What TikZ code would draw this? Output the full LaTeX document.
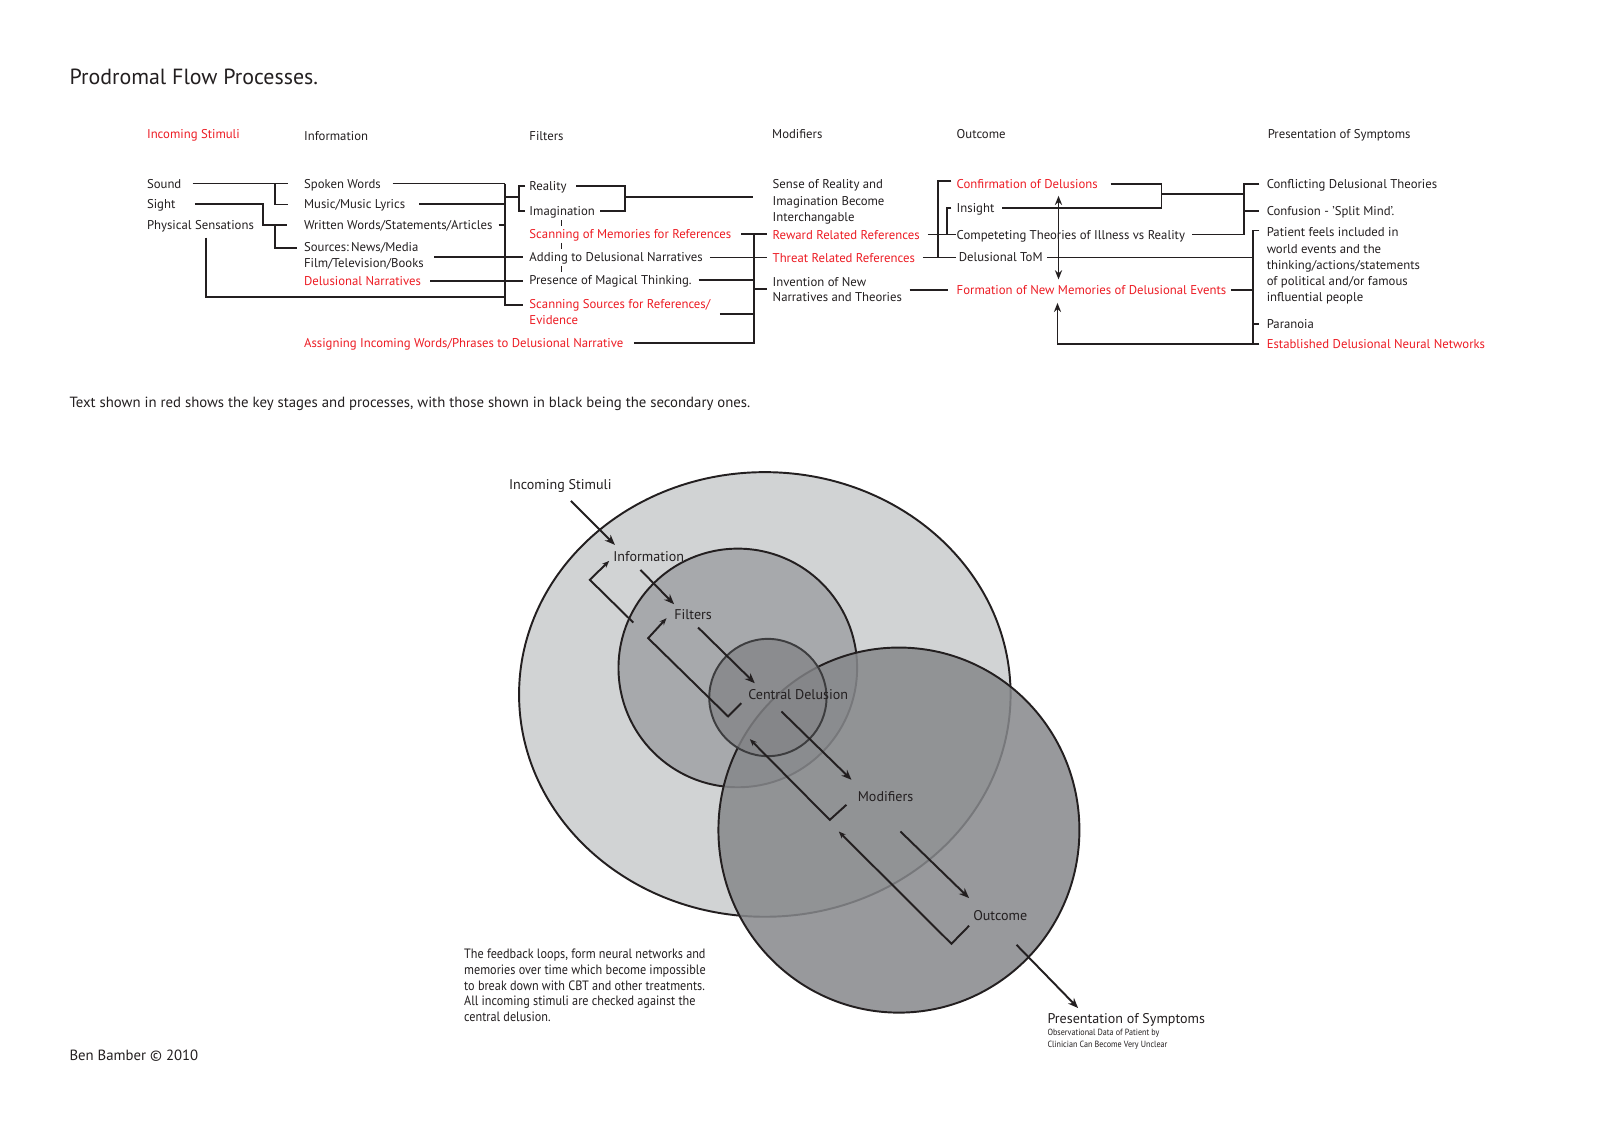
\documentclass[tikz,border=0pt]{standalone}
\usepackage{fontspec}
\setmainfont{PT Sans}
\newfontfamily\condfont[FakeStretch=0.9]{PT Sans}
\usetikzlibrary{arrows.meta}
\definecolor{kred}{HTML}{ED1C24}
\definecolor{ink}{HTML}{231F20}
\definecolor{lightg}{HTML}{D1D3D4}
\definecolor{midg}{HTML}{A7A9AC}
\definecolor{darkg}{HTML}{86888B}
\definecolor{smallg}{HTML}{848588}
\definecolor{smalledge}{HTML}{3D3D3F}
\begin{document}
\begin{tikzpicture}[x=1pt,y=-1pt,
  lbl/.style={anchor=west,inner sep=0pt,font=\fontsize{12.5}{14}\selectfont,text=ink,text height=8.8pt,text depth=0pt},
  rlbl/.style={lbl,text=kred},
  bigl/.style={lbl,font=\fontsize{13.8}{16}\selectfont,text height=9.7pt},
  notel/.style={lbl,font=\fontsize{14.5}{16}\selectfont,text height=10.1pt},
  tinyl/.style={lbl,font=\condfont\fontsize{8.8}{10}\selectfont,text height=6.2pt},
  paral/.style={lbl,font=\condfont\fontsize{13.3}{15}\selectfont,text height=9.2pt},
  ln/.style={draw=ink,line width=1.85pt},
  fw/.style={draw=ink,line width=1.9pt,-{Stealth[length=10pt,width=8pt]}},
  fb/.style={draw=ink,line width=1.9pt,-{Stealth[length=7pt,width=5.5pt]}},
  tip/.style={-{Stealth[length=9pt,width=7pt]}},
]
\useasboundingbox (0,0) rectangle (1569,1105);
\fill[white] (0,0) rectangle (1569,1105);

% ---------------- title and headers
\node[lbl,font=\fontsize{21.5}{26}\selectfont,text height=15pt] (title) at (68,75) {Prodromal Flow Processes.};
\node[rlbl] (hIS) at (144,131) {Incoming Stimuli};
\node[lbl] (hInfo) at (298,133) {Information};
\node[lbl] (hFil) at (519,133) {Filters};
\node[lbl] (hMod) at (757,131) {Modifiers};
\node[lbl] (hOut) at (938,131) {Outcome};
\node[lbl] (hPres) at (1243,131) {Presentation of Symptoms};

% ---------------- column 1
\node[lbl] (sound) at (144,180) {Sound};
\node[lbl] (sight) at (144,200) {Sight};
\node[lbl] (phys) at (144,220.5) {Physical Sensations};

% ---------------- column 2
\node[lbl] (spoken) at (298,180) {Spoken Words};
\node[lbl] (music) at (298,200.5) {Music/Music Lyrics};
\node[lbl] (written) at (298,220.5) {Written Words/Statements/Articles};
\node[lbl] (sources) at (298,242) {Sources:\,News/Media};
\node[lbl] (film) at (298,257.5) {Film/Television/Books};
\node[rlbl] (delnarr) at (298,276) {Delusional Narratives};
\node[rlbl] (assign) at (298,336) {Assigning Incoming Words/Phrases to Delusional Narrative};

% ---------------- column 3
\node[lbl] (reality) at (519,182) {Reality};
\node[lbl] (imag) at (519,207) {Imagination};
\node[rlbl] (scanmem) at (519,229) {Scanning of Memories for References};
\node[lbl] (adding) at (519,252) {Adding to Delusional Narratives};
\node[lbl] (presence) at (519,275) {Presence of Magical Thinking.};
\node[rlbl] (scansrc) at (519,298) {Scanning Sources for References/};
\node[rlbl] (evidence) at (519,314) {Evidence};

% ---------------- column 4
\node[lbl] (sense) at (757.5,180.4) {Sense of Reality and};
\node[lbl] (sense2) at (757.5,196.7) {Imagination Become};
\node[lbl] (sense3) at (757.5,212.4) {Interchangable};
\node[rlbl] (reward) at (757.5,230) {Reward Related References};
\node[rlbl] (threat) at (757.5,253) {Threat Related References};
\node[lbl] (invent) at (757.5,277) {Invention of New};
\node[lbl] (invent2) at (757.5,291.5) {Narratives and Theories};

% ---------------- column 5
\node[rlbl] (confirm) at (938,180) {Confirmation of Delusions};
\node[lbl] (insight) at (938,204) {Insight};
\node[lbl] (compet) at (938,230) {Competeting Theories of Illness vs Reality};
\node[lbl] (tom) at (940,252) {Delusional ToM};
\node[rlbl] (formation) at (938,284) {Formation of New Memories of Delusional Events};

% ---------------- column 6
\node[lbl] (conflict) at (1242,180.4) {Conflicting Delusional Theories};
\node[lbl] (confusion) at (1242,206.6) {Confusion - 'Split Mind'.};
\node[lbl] (patient) at (1242,228) {Patient feels included in};
\node[lbl] (patient2) at (1242,244.4) {world events and the};
\node[lbl] (patient3) at (1242,260) {thinking/actions/statements};
\node[lbl] (patient4) at (1242,276) {of political and/or famous};
\node[lbl] (patient5) at (1242,291.5) {influential people};
\node[lbl] (paranoia) at (1242,317.5) {Paranoia};
\node[rlbl] (established) at (1242,337.5) {Established Delusional Neural Networks};

% ---------------- connectors, stimuli -> information
\draw[ln] (189,0 |- sound.west) -- (282,180);
\draw[ln] (270,180) -- (270,200.5) -- (282,200.5);
\draw[ln] (191,0 |- sight.west) -- (258,200) -- (258,220.5) -- (281,220.5);
\draw[ln] (270,220.5) -- (270,243) -- (291,243);
\draw[ln] (202,233) -- (202,291) -- (495,291);

% information -> filters
\draw[ln] (385,0 |- spoken.west) -- (495,180);
\draw[ln] (411,200) -- (495,200);
\draw[ln] (489,220.5) -- (495,220.5);
\draw[ln] (426,252) -- (513,252);
\draw[ln] (422,275.5) -- (513,275.5);
\draw[ln] (495,180) -- (495,299) -- (513,299);
\draw[ln] (495,193.5) -- (509,193.5);
\draw[ln] (515,182) -- (509,182) -- (509,207) -- (515,207);

% filters -> modifiers
\draw[ln] (565,182) -- (613,182) -- (613,207) -- (588,207);
\draw[ln] (613,193.5) -- (738,193.5);
\draw[ink,line width=1.6pt,dash pattern=on 6pt off 16.5pt] (550.6,215.7) -- (550.6,267);
\draw[ln] (727,229.5) -- (752,229.5);
\draw[ln] (696,252.5) -- (752,252.5);
\draw[ln] (685,274.5) -- (739,274.5);
\draw[ln] (739,283.5) -- (752,283.5);
\draw[ln] (706,308) -- (739,308);
\draw[ln] (621.6,336) -- (739,336) -- (739,229.5);

% modifiers -> outcome
\draw[ln] (910,230) -- (937,230);
\draw[ln] (905,252.5) -- (937,252.5);
\draw[ln] (933,177.5) -- (920,177.5) -- (920,252.5);
\draw[ln] (933,203.8) -- (929,203.8) -- (929,230);
\draw[ln] (892,284) -- (930,284);

% outcome -> presentation
\draw[ln] (1089,180.4) -- (1139,180.4) -- (1139,204) -- (983,204);
\draw[ln] (1139,190.2) -- (1220,190.2);
\draw[ln] (1235,180.4) -- (1220,180.4) -- (1220,230) -- (1169,230);
\draw[ln] (1220,206.6) -- (1235,206.6);
\draw[ln] (1235,226) -- (1229,226) -- (1229,337.5);
\draw[ln] (1027,252.5) -- (1229,252.5);
\draw[ln] (1207,284.5) -- (1229,284.5);
\draw[ln] (1229,318) -- (1235,318);
\draw[ln,tip] (1235,337.5) -- (1037,337.5) -- (1037,297);
\draw[ln,{Stealth[length=9pt,width=7pt]}-{Stealth[length=9pt,width=7pt]}] (1038,192) -- (1038,274);

% note
\node[notel] (note) at (68,395) {Text shown in red shows the key stages and processes, with those shown in black being the secondary ones.};

% ---------------- circles
\fill[lightg] (750,681) ellipse [x radius=241,y radius=218];
\draw[ink,line width=1.9pt] (750,681) ellipse [x radius=241,y radius=218];
\fill[midg] (723.5,655) circle [radius=117];
\draw[ink,line width=1.9pt] (723.5,655) circle [radius=117];
\fill[darkg,fill opacity=0.85] (881.5,814) ellipse [x radius=177,y radius=179];
\draw[ink,line width=1.9pt] (881.5,814) ellipse [x radius=177,y radius=179];
\fill[smallg,fill opacity=0.8] (753,684) circle [radius=57.5];
\draw[smalledge,line width=1.9pt] (753,684) circle [radius=57.5];

% ---------------- flow labels
\node[bigl] (bIS) at (499,474.8) {Incoming Stimuli};
\node[bigl] (bInfo) at (601.3,545.8) {Information};
\node[bigl] (bFil) at (661,603) {Filters};
\node[bigl] (bCen) at (733.6,681.4) {Central Delusion};
\node[bigl] (bMod) at (841,781) {Modifiers};
\node[bigl] (bOut) at (954.2,897.7) {Outcome};
\node[bigl] (bPres) at (1027,998.4) {Presentation of Symptoms};
\node[tinyl] (obs1) at (1027,1012.4) {Observational Data of Patient by};
\node[tinyl] (obs2) at (1027,1024) {Clinician Can Become Very Unclear};

\node[paral] (p1) at (455,935.6) {The feedback loops, form neural networks and};
\node[paral] (p2) at (455,951.5) {memories over time which become impossible};
\node[paral] (p3) at (455,966.8) {to break down with CBT and other treatments.};
\node[paral] (p4) at (455,981.8) {All incoming stimuli are checked against the};
\node[paral] (p5) at (455,996.8) {central delusion.};

\node[notel] (credit) at (68,1035) {Ben Bamber \textcopyright{} 2010};

% ---------------- flow arrows
\draw[fw] (559.8,491.2) -- (603,534.3);
\draw[fb] (621,610.5) -- (578.4,568.6) -- (597.4,550);
\draw[fw] (628,558.8) -- (661,592.5);
\draw[fb] (727,689.5) -- (714,702.6) -- (635.6,625.8) -- (653.6,606.2);
\draw[fw] (684.6,615.4) -- (740.2,670);
\draw[fw] (766.3,697.7) -- (835,764.7);
\draw[fb] (830,789.2) -- (813.7,804) -- (735.3,724.8);
\draw[fw] (883,815.4) -- (950.3,880.7);
\draw[fb] (950.3,907.8) -- (933,925.5) -- (822.5,815.4);
\draw[fw] (996.8,926.5) -- (1057.2,988.5);
\end{tikzpicture}
\end{document}
